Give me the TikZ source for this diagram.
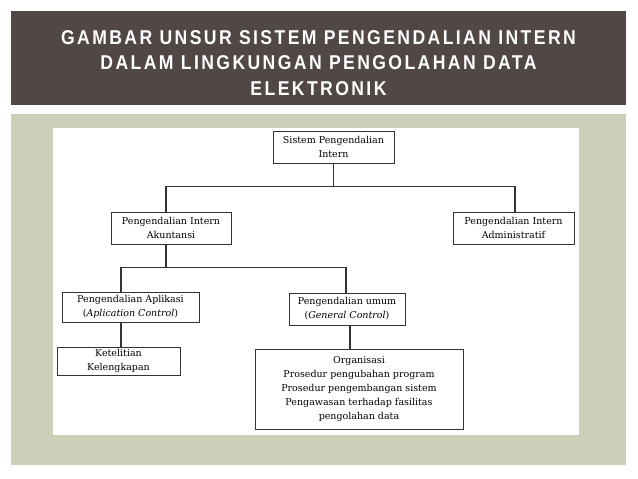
\documentclass[tikz,border=0pt]{standalone}
\usepackage{fontspec}
\setmainfont{DejaVu Serif}
\newfontfamily\titlefont[FakeStretch=0.88,LetterSpace=12]{Liberation Sans Bold}
\usepackage{tikz}
\usetikzlibrary{positioning,calc}
\definecolor{slate}{HTML}{514846}
\definecolor{sage}{HTML}{CBD0B9}
\definecolor{ink}{HTML}{333333}
\tikzset{
    orgbox/.style={draw=ink,fill=white,line width=0.9pt,inner sep=2pt,
      align=center,text=black,font=\fontsize{9.5}{14}\selectfont},
    link/.style={draw=ink,line width=1.1pt},
    slidetitle/.style={text=white,align=center,
      font=\titlefont\fontsize{20}{25.5}\selectfont}
}
\begin{document}
\begin{tikzpicture}[x=1pt,y=-1pt]
  \useasboundingbox (0,0) rectangle (638,479);
  % slide background
  \fill[slate] (11,11) rectangle (626,105);
  \fill[sage] (11,114) rectangle (626,465);
  \fill[white] (53,128) rectangle (579,435);
  \node[slidetitle] (title) at (318.5,63)
    {GAMBAR UNSUR SISTEM PENGENDALIAN INTERN\\DALAM LINGKUNGAN PENGOLAHAN DATA\\ELEKTRONIK};
  % chart
  \node[orgbox,minimum width=121pt,minimum height=32pt] (sys) at (333.5,147)
    {Sistem Pengendalian\\Intern};
  \node[orgbox,minimum width=120pt,minimum height=32pt] (akun) at (171,228)
    {Pengendalian Intern\\Akuntansi};
  \node[orgbox,minimum width=121pt,minimum height=32pt] (adm) at (513.5,228)
    {Pengendalian Intern\\Administratif};
  \node[orgbox,minimum width=137pt,minimum height=30pt] (aplik) at (130.5,307)
    {Pengendalian Aplikasi\\(\textit{Aplication Control})};
  \node[orgbox,minimum width=116pt,minimum height=32pt] (umum) at (347,309)
    {Pengendalian umum\\(\textit{General Control})};
  \node[orgbox,minimum width=123pt,minimum height=28pt] (teliti) at (118.5,361)
    {Ketelitian\\Kelengkapan};
  \node[orgbox,minimum width=208pt,minimum height=80pt] (org) at (359,389)
    {Organisasi\\Prosedur pengubahan program\\Prosedur pengembangan sistem\\Pengawasan terhadap fasilitas\\pengolahan data};
  \draw[link] (sys.south) -- ++(0,23) coordinate (bus1);
  \draw[link] ([xshift=-5pt]akun.north) |- (bus1) -| ([xshift=1.5pt]adm.north);
  \draw[link] ([xshift=-5pt]akun.south) -- ++(0,23) coordinate (bus2);
  \draw[link] ([xshift=-9.5pt]aplik.north) |- (bus2) -| ([xshift=-1pt]umum.north);
  \draw[link] ([xshift=-9.5pt]aplik.south) -- ([xshift=-9.5pt]aplik.south |- teliti.north);
  \draw[link] ([xshift=3pt]umum.south) -- ([xshift=3pt]umum.south |- org.north);
\end{tikzpicture}
\end{document}
